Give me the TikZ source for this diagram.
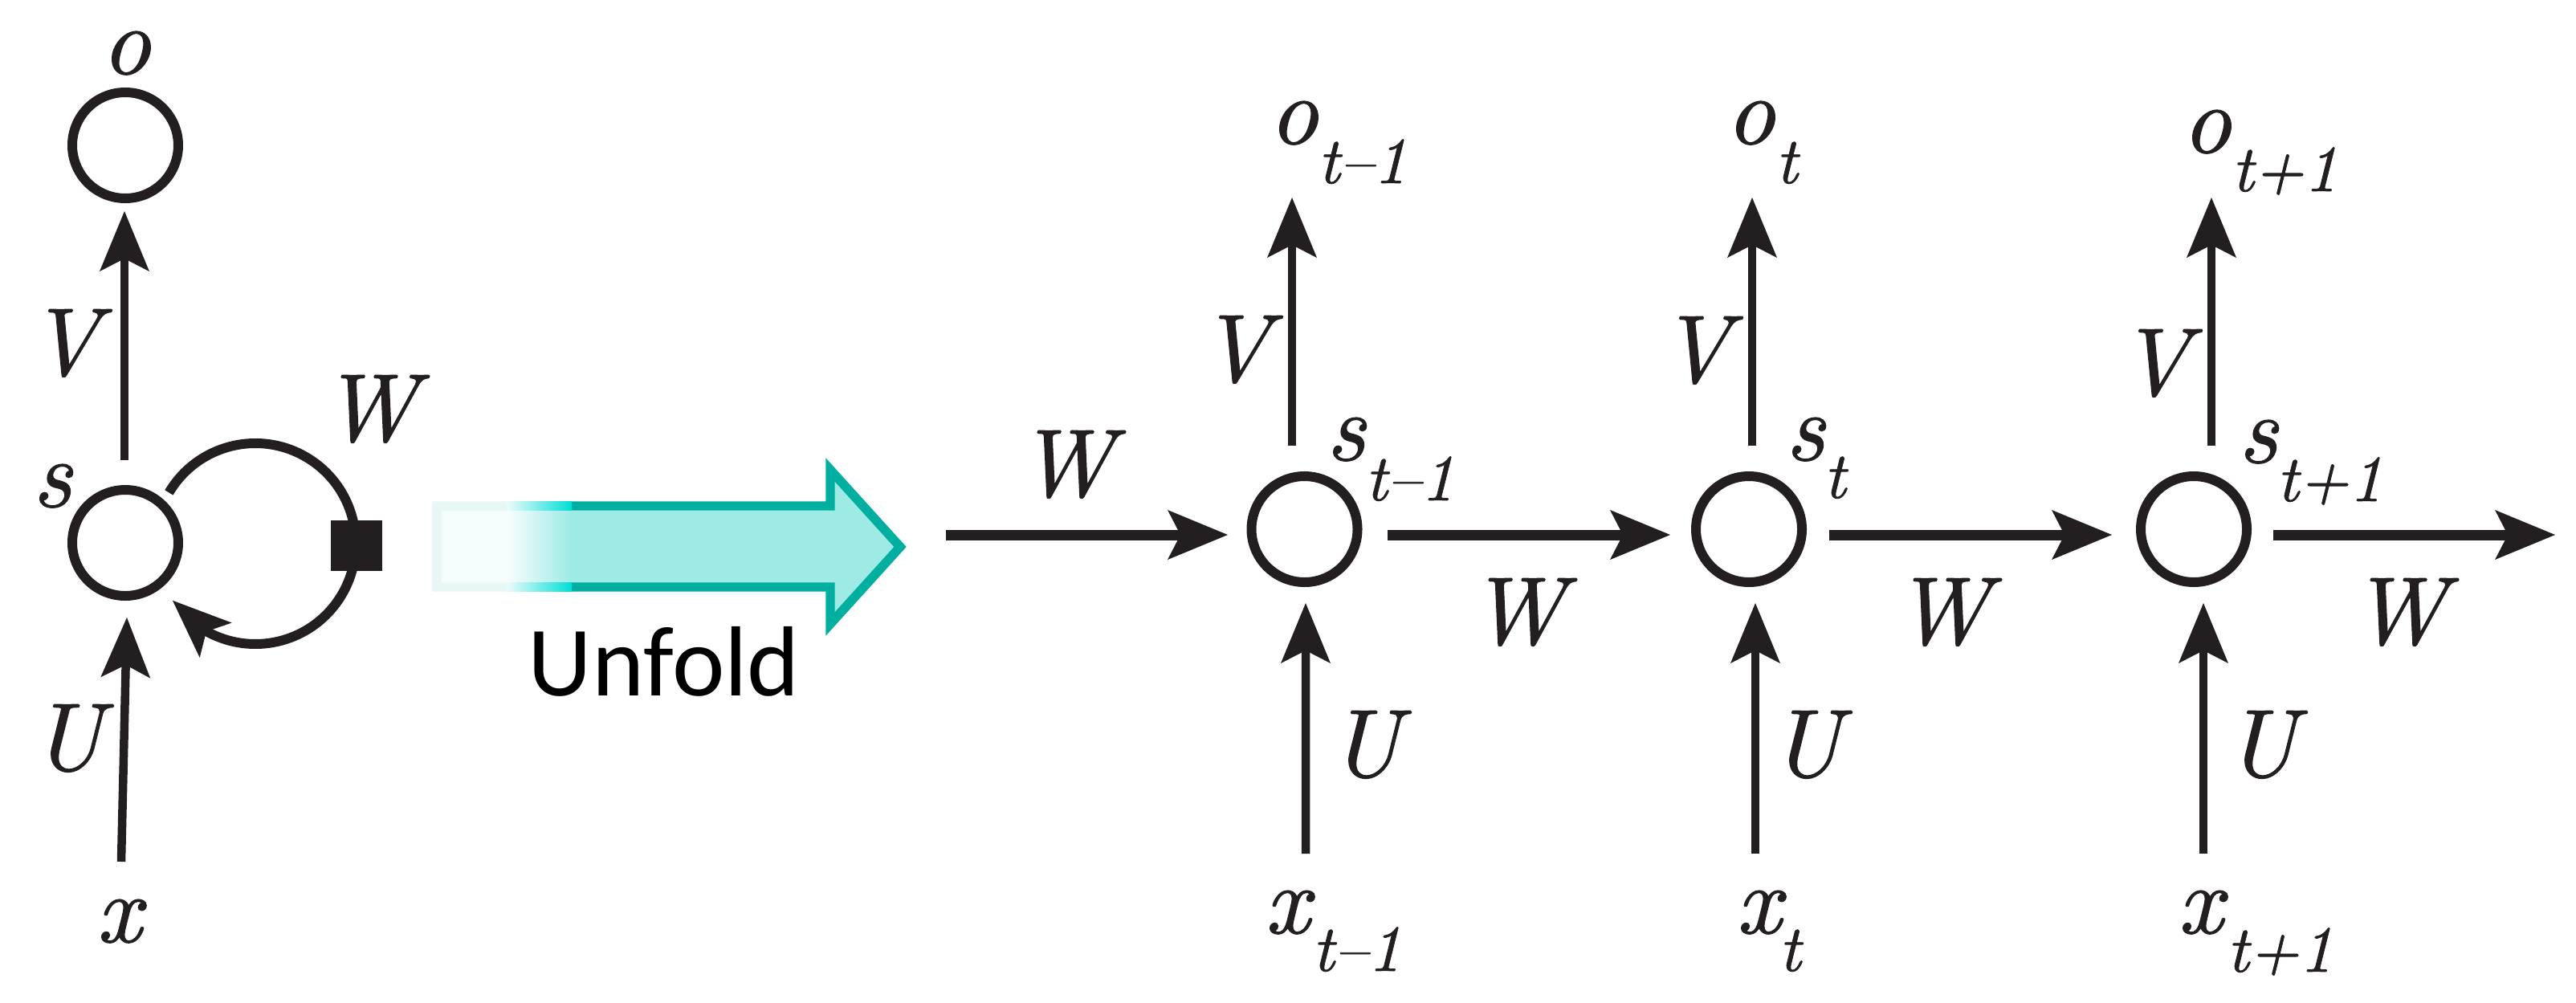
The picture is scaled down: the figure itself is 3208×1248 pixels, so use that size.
\documentclass[tikz,border=0pt]{standalone}
\usepackage{fontspec}
\newfontfamily\unfoldfont{Carlito}
\newfontfamily\labfont{lmroman10-italic}[Extension=.otf, FakeBold=0.9]
\usetikzlibrary{arrows.meta,bending,calc,fadings}
\definecolor{ink}{HTML}{231F20}
\definecolor{unfoldteal}{HTML}{00AFA0}
\definecolor{unfoldfill}{HTML}{9EEBE5}
\definecolor{unfoldbright}{HTML}{00DED6}
\tikzfading[name=unfoldfade, left color=transparent!10, right color=transparent!100]
\begin{document}
\begin{tikzpicture}[x=1bp, y=-1bp,
  >={Stealth[length=75bp,width=62bp,inset=16bp,line width=0pt]},
  lab/.style={font=\labfont\fontsize{120bp}{130bp}\selectfont, text=ink, inner sep=0pt, anchor=base},
  subl/.style={font=\labfont\fontsize{82bp}{90bp}\selectfont, text=ink, inner sep=0pt, anchor=base west},
  unitc/.style={circle, draw=ink, line width=12bp, minimum size=132bp, inner sep=0pt},
  varr/.style={->, draw=ink, line width=10.5bp},
  harr/.style={->, draw=ink, line width=13bp},
  looparr/.style={draw=ink, line width=12bp, -{Stealth[length=73bp,width=59bp,inset=16bp,line width=0pt,flex]}},
  unfoldtext/.style={font=\unfoldfont\fontsize{124bp}{130bp}\selectfont, text=black, inner sep=0pt, anchor=base}]
\useasboundingbox (0,0) rectangle (3208,1248);

% ---------- folded network ----------
\node[unitc] (o) at (156,181) {};
\node[unitc] (s) at (156,676) {};
\node[lab] (ol) at (157,92) {o};
\node[lab] (sl) at (65,631) {s};
\node[lab] (xl) at (148,1173) {x};
\node[lab] (Vl) at (80,467) {V};
\node[lab] (Ul) at (84,959) {U};
\node[lab] (Wl) at (460,549) {W};
\coordinate (ub0) at (151,1073);
\draw[varr] ($(s.north)+(-1,-31)$) -- ($(o.south)+(-1,10)$);
\draw[varr] (ub0) -- ($(s.south)+(2,21)$);
\coordinate (loopc) at (318,677);
\draw[looparr] ($(loopc)+(210.6:125)$) arc[start angle=210.6, end angle=505.5, radius=125];
\node[fill=ink, minimum width=64bp, minimum height=63bp, inner sep=0pt] (sq) at (444,679) {};

% ---------- Unfold arrow ----------
\draw[line width=11.4bp, draw=unfoldteal, fill=unfoldfill]
  (544,630) -- (1034,630) -- (1034,585) -- (1121,681) -- (1034,777) -- (1034,731) -- (544,731) -- cycle;
\draw[line width=11.4bp, unfoldbright] (630,630) -- (712,630);
\draw[line width=11.4bp, unfoldbright] (630,731) -- (712,731);
\fill[white, opacity=0.9] (530,615) rectangle (634,746);
\fill[white, path fading=unfoldfade] (634,615) rectangle (712,746);
\node[unfoldtext] (unfold) at (827,866) {Unfold};

% ---------- unfolded network ----------
\node[unitc] (s1) at (1624.5,659) {};
\node[unitc] (s2) at (2178,659) {};
\node[unitc] (s3) at (2732,659) {};

\node[lab] (o1) at (1611,179) {o};
\node[subl] (o1s) at (1641,228) {t–1};
\node[lab] (o2) at (2180,179) {o};
\node[subl] (o2s) at (2211,228) {t};
\node[lab] (o3) at (2748,190) {o};
\node[subl] (o3s) at (2779,238) {t+1};

\node[lab] (V1) at (1538,475) {V};
\node[lab] (V2) at (2111,476) {V};
\node[lab] (V3) at (2683,492) {V};

\node[lab] (s1l) at (1676,573) {s};
\node[subl] (s1s) at (1700,623) {t–1};
\node[lab] (s2l) at (2248,573) {s};
\node[subl] (s2s) at (2271,620) {t};
\node[lab] (s3l) at (2812,576) {s};
\node[subl] (s3s) at (2835,624) {t+1};

\node[lab] (Win) at (1327,618) {W};
\node[lab] (W1) at (1889,802) {W};
\node[lab] (W2) at (2418,802) {W};
\node[lab] (W3) at (2987,802) {W};

\node[lab] (U1) at (1700,967) {U};
\node[lab] (U2) at (2249,967) {U};
\node[lab] (U3) at (2816,967) {U};

\node[lab] (x1) at (1603,1162) {x};
\node[subl] (x1s) at (1634,1209) {t–1};
\node[lab] (x2) at (2190,1162) {x};
\node[subl] (x2s) at (2215,1209) {t};
\node[lab] (x3) at (2740,1162) {x};
\node[subl] (x3s) at (2773,1210) {t+1};

% free ends
\coordinate (vt1) at (1609,246);
\coordinate (vt2) at (2182,246);
\coordinate (vt3) at (2754,246);
\coordinate (ub1) at (1626,1063);
\coordinate (ub2) at (2186,1063);
\coordinate (ub3) at (2744,1063);
\coordinate (win) at (1178,666);
\coordinate (wout) at (3182,666);

% V connectors
\draw[varr] ($(s1.north)+(-15.5,-32)$) -- (vt1);
\draw[varr] ($(s2.north)+(4,-32)$) -- (vt2);
\draw[varr] ($(s3.north)+(22,-32)$) -- (vt3);
% U connectors
\draw[varr] (ub1) -- ($(s1.south)+(1.5,20)$);
\draw[varr] (ub2) -- ($(s2.south)+(8,20)$);
\draw[varr] (ub3) -- ($(s3.south)+(12,20)$);
% W connectors
\draw[harr] (win) -- ($(s1.west)+(-23.5,7)$);
\draw[harr] ($(s1.east)+(31.5,7)$) -- ($(s2.west)+(-26,7)$);
\draw[harr] ($(s2.east)+(28,7)$) -- ($(s3.west)+(-30,7)$);
\draw[harr] ($(s3.east)+(27,7)$) -- (wout);
\end{tikzpicture}
\end{document}
